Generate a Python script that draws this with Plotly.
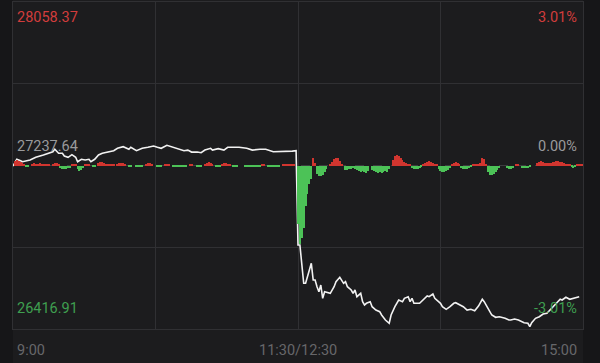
import plotly.graph_objects as go

# ---- data -------------------------------------------------------------
PRE_CLOSE = 27237.64
Y_MAX = 28058.37
Y_MIN = 26416.91
pct_labels = ["3.01%", "0.00%", "-3.01%"]
time_ticks = ["9:00", "11:30/12:30", "15:00"]
tick_minutes = [0, 150, 300]

# minute index (0 = 9:00, 150 = 11:30/12:30, 300 = 15:00) and price
price_min = [0, 2, 4, 5, 9, 12, 16, 19, 21, 22, 24, 26, 27, 29, 31, 33, 34, 36, 38, 40,
             41, 43, 45, 47, 49, 53, 55, 58, 61, 62, 65, 68, 71, 74, 76, 78, 81, 84, 86, 90,
             92, 94, 97, 99, 101, 104, 105, 108, 111, 113, 116, 119, 123, 126, 130, 133, 137, 142, 147, 149,
             150, 151, 153, 154, 155, 157, 158, 159, 160, 161, 162, 163, 164, 166, 167, 169, 170, 172, 174, 175,
             176, 178, 179, 180, 181, 183, 184, 185, 186, 188, 189, 191, 193, 194, 196, 198, 199, 201, 203, 205,
             206, 208, 209, 210, 211, 214, 216, 218, 219, 221, 222, 225, 226, 228, 230, 232, 233, 235, 237, 239,
             241, 243, 244, 245, 247, 248, 250, 252, 254, 256, 259, 261, 262, 264, 266, 268, 269, 271, 272, 273,
             275, 277, 279, 281, 283, 284, 286, 288, 289, 291, 293, 295, 297, 298]
price_val = [27235.0, 27268.8, 27261.7, 27256.7, 27265.0, 27278.8, 27290.0, 27298.9, 27306.9, 27319.0,
             27298.9, 27298.9, 27285.3, 27278.8, 27291.9, 27278.8, 27256.7, 27268.8, 27265.3, 27268.8,
             27256.7, 27268.8, 27290.3, 27298.9, 27303.9, 27312.0, 27324.0, 27332.0, 27319.0, 27329.0,
             27312.0, 27324.0, 27329.0, 27335.5, 27329.0, 27324.0, 27339.0, 27329.0, 27322.0, 27312.0,
             27315.0, 27305.0, 27305.0, 27302.0, 27315.0, 27324.0, 27315.0, 27322.0, 27315.0, 27329.0,
             27329.0, 27329.0, 27324.0, 27315.0, 27319.0, 27319.0, 27307.0, 27307.0, 27310.0, 27312.0,
             26838.6, 26838.6, 26646.2, 26646.2, 26679.4, 26746.7, 26662.9, 26662.9, 26629.2, 26604.1,
             26637.7, 26571.0, 26604.1, 26596.0, 26596.0, 26629.2, 26654.3, 26676.4, 26646.2, 26654.3,
             26629.2, 26612.6, 26596.0, 26612.6, 26579.0, 26596.0, 26553.9, 26537.3, 26545.9, 26553.9,
             26528.8, 26512.2, 26503.7, 26487.1, 26462.0, 26445.5, 26487.1, 26528.8, 26562.4, 26553.9,
             26571.0, 26579.0, 26553.9, 26571.0, 26545.9, 26545.9, 26562.4, 26582.5, 26579.0, 26592.6,
             26571.0, 26545.9, 26528.8, 26515.7, 26528.8, 26545.9, 26549.0, 26537.3, 26528.8, 26512.2,
             26515.7, 26508.7, 26520.8, 26532.0, 26566.0, 26553.9, 26520.8, 26487.1, 26475.6, 26478.6,
             26470.6, 26462.0, 26462.0, 26467.0, 26462.0, 26453.5, 26448.5, 26445.5, 26428.4, 26448.5,
             26470.6, 26478.6, 26492.2, 26495.7, 26515.7, 26528.8, 26545.9, 26566.0, 26562.4, 26576.0,
             26566.0, 26571.0, 26576.0, 26579.0]

# per-minute strength bars (positive = red, negative = green)
bar_min = [1, 2, 3, 4, 5, 6, 7, 8,
           10, 11, 12, 13, 14, 15, 16, 17, 18, 19,
           21, 22, 23, 24, 25, 26, 27, 28, 29, 30, 31, 32, 33, 34, 35, 36, 37, 38, 39, 40, 42, 43,
           45, 46, 47, 48, 49, 50, 51, 52, 53, 55, 56, 57, 58, 59, 61, 62, 65, 66, 67, 68,
           70, 71, 72, 73, 76, 77, 78, 80, 81, 82, 84, 85, 86, 87, 88, 89, 90, 91, 93, 94,
           97, 98, 99, 101, 102, 103, 104, 105, 107, 108, 109, 110, 111, 112, 113, 114, 116, 117, 118,
           122, 123, 124, 125, 126, 127, 128, 129, 130, 131, 132, 134, 135, 136, 137, 138, 139, 140,
           142, 143, 144, 145, 146, 147, 148,
           150, 151, 152, 153, 154, 155, 156, 157, 158, 159, 160, 161, 162, 163, 164, 165,
           167, 168, 169, 170, 171, 172, 173, 175, 176, 177, 178, 179, 180, 181, 182, 183, 184, 185, 186, 187,
           189, 190, 191, 192, 193, 194, 195, 196, 197, 198, 200, 201, 202, 203, 204, 205, 206, 207, 208, 209,
           210, 211, 212, 213, 214, 215, 216, 217, 218, 219, 220, 221, 222, 223, 224, 225, 226, 227, 228, 229, 230,
           231, 232, 233, 234, 235, 236, 237, 238, 239, 240, 241, 242, 243, 244, 245, 246, 247, 248, 249,
           250, 251, 252, 253, 254, 255, 256, 260, 261, 262, 263, 265, 266, 268, 269, 270, 271, 272,
           276, 277, 278, 279, 280, 281, 282, 283, 284, 285, 286, 287, 288, 289, 290, 291, 292, 293,
           294, 295, 296, 297, 298, 299, 300]
bar_val = [5, 6, 5, 4, 3, 2, -1, -1,
           2, 3, 2, 2, 3, 2, 2, 2, 2, 1,
           2, 3, 3, 2, -2, -3, -3, -3, -2, -2, 1, 2, 2, -3, -5, -4, -2, 2, 2, 1, -1, -1,
           3, 4, 4, 3, 2, 1, 2, 2, 1, 2, 3, 3, 3, 2, -1, -1, -1, -1, -1, -1,
           2, 3, 3, 2, -1, -1, -1, 2, 2, 1, -1, -1, -1, -1, -1, -1, -1, -1, 1, 1,
           -1, -1, -1, 2, 3, 4, 3, 2, -1, -1, -1, 2, 3, 3, 2, 1, -1, -1, -1,
           -1, -1, -1, -1, -1, -1, -1, -1, -1, 1, 1, -1, -1, -1, -1, -1, -1, -1,
           1, 1, 1, 1, 1, 1, 1,
           -58, -78, -72, -62, -40, -28, -18, -13, 8, 3, -8, -10, -10, -9, -6, -3,
           2, 4, 7, 8, 8, 5, 2, -4, -4, -3, -3, -2, -3, -4, -5, -6, -5, -6, -7, -5,
           -4, -5, -6, -7, -6, -7, -6, -5, -6, -3, 6, 10, 11, 10, 8, 6, 4, 3, 2, 1,
           -2, -3, -3, -3, -2, -1, 2, 3, 4, 5, 4, 3, 2, 1, -3, -5, -6, -6, -5, -4, -2,
           2, 3, 4, 3, 2, -2, -3, -3, -3, -2, -1, 1, 1, 1, 2, 3, 8, 7, 1,
           -6, -9, -9, -8, -6, -4, -2, -2, -3, -3, -2, 1, 2, -2, -2, -2, -2, -1,
           3, 4, 5, 4, 3, 3, 3, 3, 4, 4, 5, 5, 4, 4, 3, 2, 1, 1,
           -1, -2, -1, 2, 2, 1, 1]

# ---- style ------------------------------------------------------------
BG_OUT = "#161618"
BG_IN = "#1c1c1e"
GRID = "#303033"
RED_T = "#d23c3c"
GREEN_T = "#3f9f50"
GRAY_T = "#9a9a9c"
AXIS_T = "#67676a"
RED_B = "#d1352f"
GREEN_B = "#4cc257"
FONT = "Roboto"

fig = go.Figure()

fig.add_trace(go.Bar(
    x=bar_min, y=bar_val, yaxis="y2",
    marker=dict(color=[RED_B if v > 0 else GREEN_B for v in bar_val], line=dict(width=0)),
    width=0.6, showlegend=False, hoverinfo="skip"))

fig.add_trace(go.Scatter(
    x=price_min, y=price_val, mode="lines",
    line=dict(color="#f2f2f2", width=1.6), showlegend=False, hoverinfo="skip"))

quarter = (Y_MAX - Y_MIN) / 4

# background card
fig.add_shape(type="rect", xref="paper", yref="paper", x0=0, x1=1, y0=-0.2, y1=1.01,
              fillcolor=BG_IN, line=dict(width=0), layer="below")
# zero line
fig.add_shape(type="line", xref="paper", yref="y", x0=0, x1=1, y0=PRE_CLOSE, y1=PRE_CLOSE,
              line=dict(color="#3c3c3f", width=1, dash="dash"), layer="below")

fig.update_layout(
    width=600, height=363,
    margin=dict(l=13, r=17, t=2, b=34),
    paper_bgcolor=BG_OUT, plot_bgcolor=BG_IN,
    bargap=0,
    xaxis=dict(range=[0, 300], tickvals=[0, 75, 150, 225, 300], showticklabels=False,
               showgrid=True, gridcolor=GRID, gridwidth=1, zeroline=False,
               showline=True, mirror=True, linecolor=GRID, linewidth=1),
    yaxis=dict(range=[Y_MIN, Y_MAX],
               tickvals=[Y_MIN, Y_MIN + quarter, Y_MAX - quarter, Y_MAX],
               showticklabels=False, showgrid=True, gridcolor=GRID, gridwidth=1,
               zeroline=False, showline=True, mirror=True, linecolor=GRID, linewidth=1),
    yaxis2=dict(range=[-163.5, 163.5], overlaying="y", visible=False),
)

label_font = dict(family=FONT, size=14.5)
ann = []
# left price labels
ann.append(dict(x=0, y=Y_MAX, text=f"{Y_MAX:.2f}", xanchor="left", yanchor="top",
                xshift=2, yshift=-5, font=dict(color=RED_T, **label_font)))
ann.append(dict(x=0, y=PRE_CLOSE, text=f"{PRE_CLOSE:.2f}", xanchor="left", yanchor="bottom",
                xshift=2, yshift=9, font=dict(color=GRAY_T, **label_font)))
ann.append(dict(x=0, y=Y_MIN, text=f"{Y_MIN:.2f}", xanchor="left", yanchor="bottom",
                xshift=2, yshift=10, font=dict(color=GREEN_T, **label_font)))
# right percent labels
ann.append(dict(x=300, y=Y_MAX, text=pct_labels[0], xanchor="right", yanchor="top",
                xshift=-4, yshift=-5, font=dict(color=RED_T, **label_font)))
ann.append(dict(x=300, y=PRE_CLOSE, text=pct_labels[1], xanchor="right", yanchor="bottom",
                xshift=-4, yshift=9, font=dict(color=GRAY_T, **label_font)))
ann.append(dict(x=300, y=Y_MIN, text=pct_labels[2], xanchor="right", yanchor="bottom",
                xshift=-4, yshift=10, font=dict(color=GREEN_T, **label_font)))
# time labels
anchors = ["left", "center", "right"]
shifts = [2, 0, -4]
for t, m, a, s in zip(time_ticks, tick_minutes, anchors, shifts):
    ann.append(dict(x=m, y=Y_MIN, text=t, xanchor=a, yanchor="top", xshift=s, yshift=-11,
                    font=dict(color=AXIS_T, family=FONT, size=14.5)))
for a in ann:
    a.update(xref="x", yref="y", showarrow=False)
fig.update_layout(annotations=ann)

fig.write_html("out.html")
